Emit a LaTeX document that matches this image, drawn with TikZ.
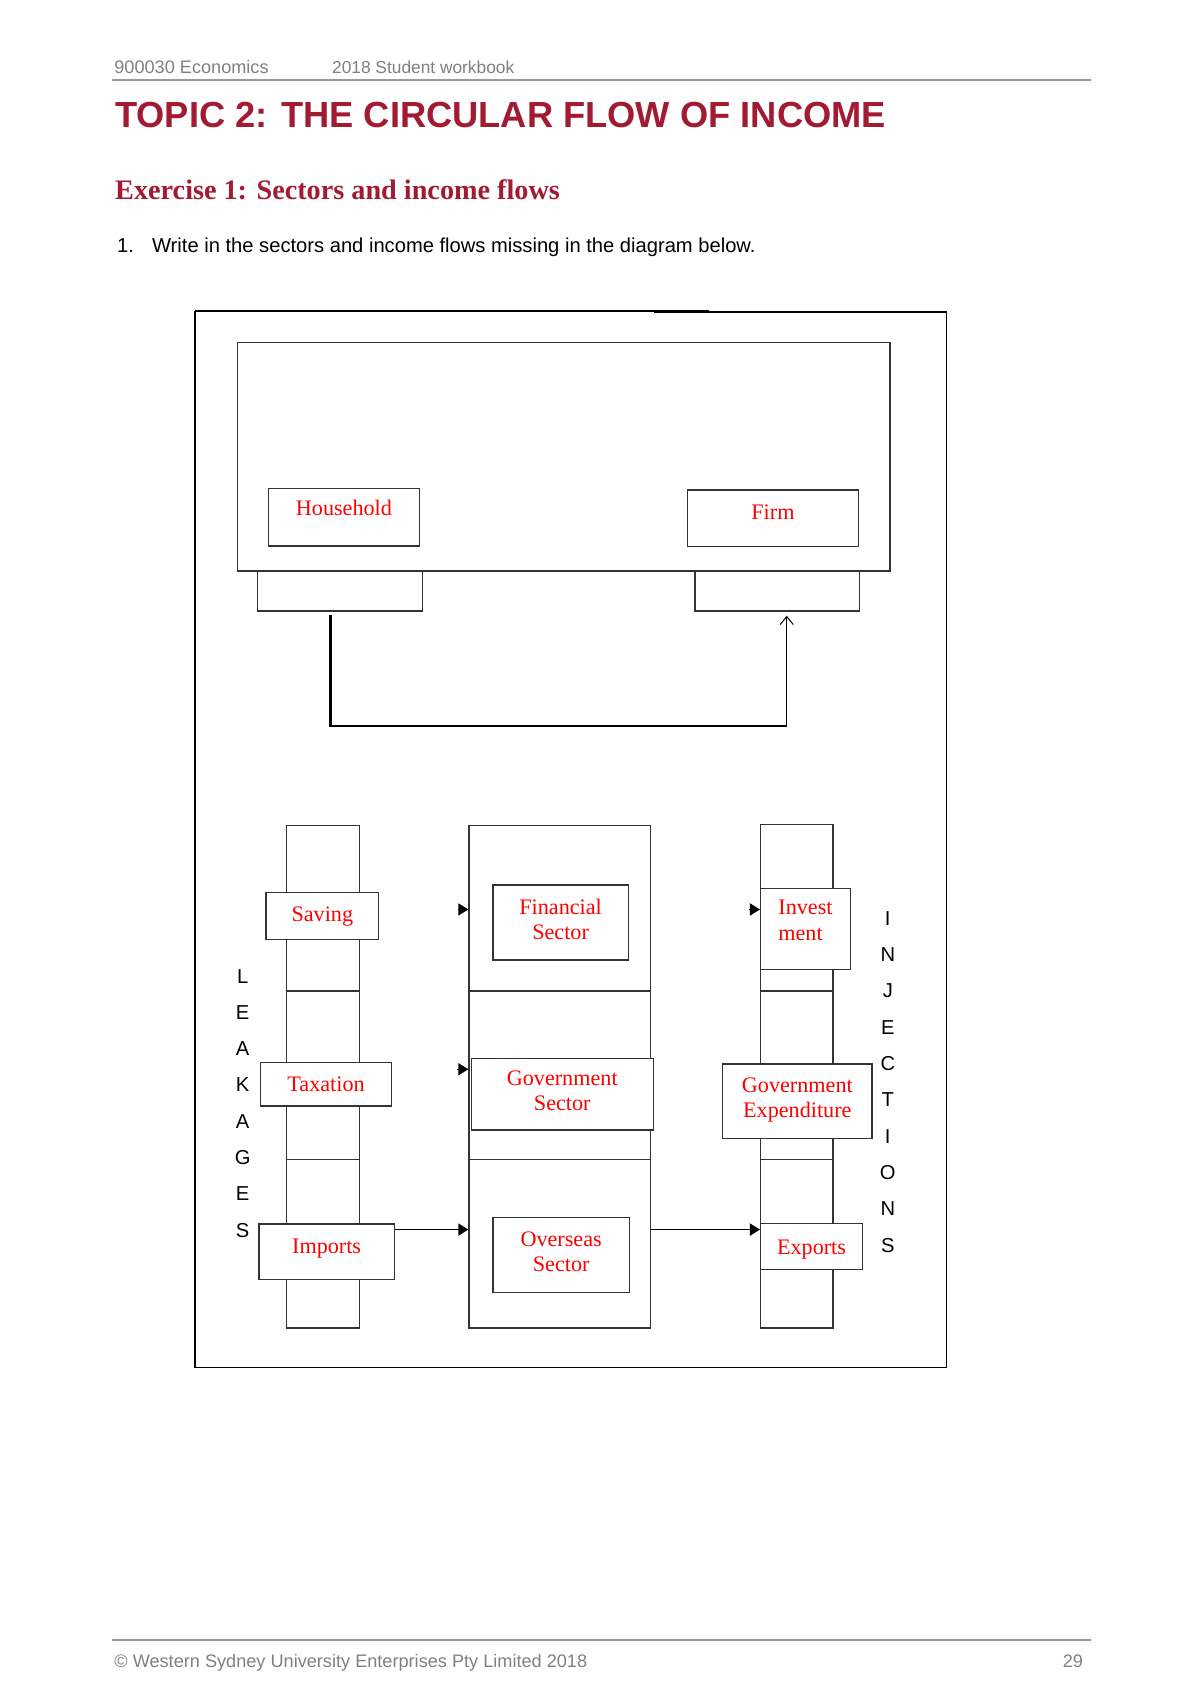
\documentclass[tikz,border=0pt]{standalone}
\usepackage{fontspec}
\setmainfont{Liberation Serif}
\newfontfamily\arialfont{Liberation Sans}
\usepackage{tikz}
\usetikzlibrary{arrows.meta}
\newlength\pxu
\setlength\pxu{0.5374pt}
\definecolor{wsured}{RGB}{163,27,50}
\definecolor{pagegray}{RGB}{128,128,128}
\tikzset{sector/.style={draw=black!80, line width=0.7pt, fill=white, inner sep=0pt, text=red, font=\fontsize{11}{12.5}\selectfont, align=center}}
\tikzset{sectortext/.style={inner sep=0pt, text=red, font=\fontsize{11}{12.5}\selectfont, align=center}}
\tikzset{oneline/.style={text height=7.5pt, text depth=#1}, oneline/.default=0pt}
\tikzset{boxsize/.style 2 args={minimum width=#1*\pxu, minimum height=#2*\pxu}}
\tikzset{column/.style={draw=black!80, line width=0.7pt, inner sep=0pt}}
\tikzset{letter/.style={font=\arialfont\fontsize{10}{12}\selectfont, inner sep=0pt}}
\tikzset{flow/.style={line width=0.7pt, -{Triangle[length=5pt,width=6pt]}}}
\tikzset{pagetext/.style={anchor=base west, inner sep=0pt, text=pagegray, font=\arialfont\fontsize{9}{11}\selectfont}}

\begin{document}
\begin{tikzpicture}[x=0.5374pt, y=-0.5374pt]
  \useasboundingbox (0,0) rectangle (1107.7,1567.4);
  % Page header and the exercise text
  \node[pagetext] (course) at (105.2,67.7) {900030 Economics};
  \node[pagetext, font=\arialfont\fontsize{8.6}{11}\selectfont] (workbook) at (306.2,67.7) {2018 Student workbook};
  \draw[pagegray!80, line width=0.8pt] (103,73.8) -- (1007,73.8);
  \node[anchor=base west, inner sep=0pt, text=wsured, font=\arialfont\bfseries\fontsize{18}{22}\selectfont] (topic) at (106,117.5) {TOPIC 2: THE CIRCULAR FLOW OF INCOME};
  \node[anchor=base west, inner sep=0pt, text=wsured, font=\bfseries\fontsize{14}{17}\selectfont] (exercise) at (106,184.6) {Exercise 1: Sectors and income flows};
  \node[pagetext, text=black, font=\arialfont\fontsize{10}{12}\selectfont] (itemno) at (107.7,232.9) {1.};
  \node[pagetext, text=black, font=\arialfont\fontsize{10}{12}\selectfont] (task) at (140,232.9) {Write in the sectors and income flows missing in the diagram below.};

  % Outer frame, the top edge is drawn heavier
  \draw[line width=0.75pt] (873.9,288.3) -- (873.9,1262.2) -- (180,1262.2) -- (180,286.8);
  \draw[line width=1.1pt] (180,286.8) -- (604,286.8);
  \draw[line width=1.7pt] (604,287.8) -- (654,287.8);
  \draw[line width=1.1pt] (654,288.3) -- (873.9,288.3);

  % The two-sector economy with its flow boxes
  \node[sector, boxsize={602.5}{211}] (economy) at (520.25,421.5) {};
  \node[sector, oneline=8.9pt, boxsize={139}{53}] (household) at (317.5,477.5) {Household};
  \node[sector, oneline=6.7pt, boxsize={157.5}{52.3}] (firm) at (713.5,478.5) {Firm};
  \node[sector, boxsize={152.5}{37}] (hhlow) at (313.75,545.5) {};
  \node[sector, boxsize={151.6}{37}] (firmlow) at (717.4,545.5) {};

  \coordinate (hhout) at ([xshift=-8.75*\pxu,yshift=-3*\pxu]hhlow.south);
  \coordinate (firmin) at ([xshift=8.8*\pxu,yshift=-3.7*\pxu]firmlow.south);
  \coordinate (loop) at (726.2,670.2);
  \draw[line width=1.1pt] (hhout) |- (loop);
  \draw[line width=0.5pt, -{Straight Barb[length=4pt,width=6.5pt]}] (loop) -- (firmin);

  % Leakage, sector and injection columns
  \node[column, boxsize={67}{464}] (lcol) at (298.2,994) {};
  \node[column, boxsize={167.5}{464}] (mcol) at (516.75,994) {};
  \node[column, boxsize={66.8}{465}] (rcol) at (735.6,993.5) {};
  \foreach \c in {lcol,mcol,rcol}
    \foreach \y in {914.8,1070.2}
      \draw[black!80, line width=0.7pt] (\c.west |- 0,\y) -- (\c.east |- 0,\y);

  \node[sector, oneline=1.5pt, boxsize={104.1}{43.4}] (saving) at (297.55,845.4) {Saving};
  \node[sector, oneline, boxsize={121.3}{40.3}] (tax) at (300.95,1000.75) {Taxation};
  \node[sector, oneline=5.9pt, boxsize={125}{51}] (imports) at (301.5,1155.5) {Imports};

  % two-line names sit a little above the middle of their boxes
  \node[sector, boxsize={125}{69}, label={[sectortext, yshift=1.6pt]center:Financial\\Sector}] (financial) at (517.5,851.5) {};
  \node[sector, boxsize={168}{66}, label={[sectortext, yshift=1.6pt]center:Government\\Sector}] (government) at (519,1010) {};
  \node[sector, boxsize={126}{69}, label={[sectortext, yshift=1.6pt]center:Overseas\\Sector}] (overseas) at (518,1158.5) {};

  \node[sector, boxsize={83}{75}, label={[sectortext, align=left, yshift=4.3pt]center:Invest\\ment}] (invest) at (743.5,857.5) {};
  \node[sector, boxsize={138}{69}, label={[sectortext, yshift=0.6pt]center:Government\\Expenditure}] (govexp) at (736,1016.5) {};
  \node[sector, oneline, boxsize={93.8}{42.8}] (exports) at (749.1,1150.6) {Exports};

  % Flows between the columns
  \coordinate (impout) at ([yshift=20.5*\pxu]imports.east);
  \draw[flow] (impout) -- (impout -| mcol.west);
  \draw[flow] (impout -| mcol.east) -- (impout -| rcol.west);
  \coordinate (savfree) at (423,839.5);
  \coordinate (taxfree) at (422,987);
  \coordinate (invfree) at (691.5,839.5);
  \draw[flow] (savfree) -- (savfree -| mcol.west);
  \draw[flow] (taxfree) -- (taxfree -| mcol.west);
  \draw[flow] (invfree) -- (invfree -| rcol.west);

  % Side captions, one letter per node
  \foreach \l [count=\i] in {L,E,A,K,A,G,E,S}
    \node[letter] (leak\i) at (224,867.5+33.5*\i) {\l};
  \foreach \l [count=\i] in {I,N,J,E,C,T,I,O,N,S}
    \node[letter] (inj\i) at (819.5,814.1+33.54*\i) {\l};

  % Page footer
  \draw[pagegray!80, line width=0.8pt] (103,1514) -- (1007,1514);
  \node[pagetext] (copyright) at (105.2,1539) {© Western Sydney University Enterprises Pty Limited 2018};
  \node[pagetext, anchor=base east] (pageno) at (1000,1539) {29};
\end{tikzpicture}
\end{document}
